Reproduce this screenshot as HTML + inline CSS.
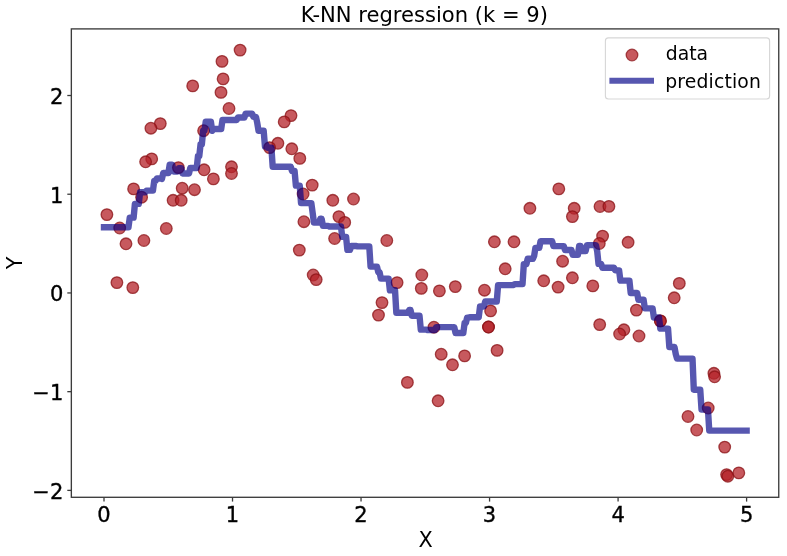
<!DOCTYPE html>
<html><head><meta charset="utf-8"><style>
html,body{margin:0;padding:0;background:#fff;}
svg{display:block;}
text{font-family:"DejaVu Sans","Liberation Sans",sans-serif;fill:#000;}
</style></head><body>
<svg width="787" height="556" viewBox="0 0 787 556">
<rect width="787" height="556" fill="#fff"/>
<g fill="#b42228" fill-opacity="0.75" stroke="#8a1014" stroke-opacity="0.75" stroke-width="1.3">
<circle cx="222.0" cy="61.4" r="5.8"/>
<circle cx="223.1" cy="78.9" r="5.8"/>
<circle cx="192.7" cy="85.9" r="5.8"/>
<circle cx="221.0" cy="92.4" r="5.8"/>
<circle cx="229.0" cy="108.5" r="5.8"/>
<circle cx="160.3" cy="123.6" r="5.8"/>
<circle cx="150.9" cy="128.2" r="5.8"/>
<circle cx="203.6" cy="130.7" r="5.8"/>
<circle cx="151.7" cy="158.9" r="5.8"/>
<circle cx="145.6" cy="161.8" r="5.8"/>
<circle cx="178.4" cy="167.6" r="5.8"/>
<circle cx="204.1" cy="169.8" r="5.8"/>
<circle cx="213.4" cy="178.9" r="5.8"/>
<circle cx="231.5" cy="166.8" r="5.8"/>
<circle cx="231.5" cy="173.5" r="5.8"/>
<circle cx="133.6" cy="188.9" r="5.8"/>
<circle cx="141.6" cy="197.2" r="5.8"/>
<circle cx="182.2" cy="188.2" r="5.8"/>
<circle cx="194.5" cy="189.7" r="5.8"/>
<circle cx="173.1" cy="200.3" r="5.8"/>
<circle cx="181.2" cy="200.3" r="5.8"/>
<circle cx="106.9" cy="214.6" r="5.8"/>
<circle cx="119.7" cy="228.0" r="5.8"/>
<circle cx="166.3" cy="228.5" r="5.8"/>
<circle cx="126.0" cy="243.8" r="5.8"/>
<circle cx="143.9" cy="240.5" r="5.8"/>
<circle cx="116.9" cy="282.6" r="5.8"/>
<circle cx="132.8" cy="287.6" r="5.8"/>
<circle cx="240.1" cy="50.1" r="5.8"/>
<circle cx="291.0" cy="115.6" r="5.8"/>
<circle cx="284.2" cy="121.9" r="5.8"/>
<circle cx="277.9" cy="143.3" r="5.8"/>
<circle cx="269.6" cy="147.6" r="5.8"/>
<circle cx="291.8" cy="148.8" r="5.8"/>
<circle cx="299.8" cy="158.4" r="5.8"/>
<circle cx="312.2" cy="185.1" r="5.8"/>
<circle cx="303.1" cy="194.0" r="5.8"/>
<circle cx="332.8" cy="200.3" r="5.8"/>
<circle cx="353.5" cy="199.0" r="5.8"/>
<circle cx="338.9" cy="216.6" r="5.8"/>
<circle cx="344.7" cy="222.4" r="5.8"/>
<circle cx="303.9" cy="221.7" r="5.8"/>
<circle cx="334.6" cy="238.5" r="5.8"/>
<circle cx="299.3" cy="250.1" r="5.8"/>
<circle cx="313.2" cy="275.0" r="5.8"/>
<circle cx="316.2" cy="279.6" r="5.8"/>
<circle cx="386.8" cy="240.5" r="5.8"/>
<circle cx="421.8" cy="275.0" r="5.8"/>
<circle cx="397.1" cy="282.6" r="5.8"/>
<circle cx="421.3" cy="288.4" r="5.8"/>
<circle cx="439.4" cy="290.9" r="5.8"/>
<circle cx="455.3" cy="286.6" r="5.8"/>
<circle cx="484.5" cy="290.2" r="5.8"/>
<circle cx="382.0" cy="302.6" r="5.8"/>
<circle cx="378.5" cy="315.1" r="5.8"/>
<circle cx="433.9" cy="327.2" r="5.8"/>
<circle cx="441.2" cy="354.2" r="5.8"/>
<circle cx="464.6" cy="355.9" r="5.8"/>
<circle cx="452.5" cy="364.8" r="5.8"/>
<circle cx="407.4" cy="382.4" r="5.8"/>
<circle cx="438.1" cy="400.8" r="5.8"/>
<circle cx="488.5" cy="327.0" r="5.8"/>
<circle cx="488.5" cy="327.0" r="5.8"/>
<circle cx="490.6" cy="310.9" r="5.8"/>
<circle cx="497.1" cy="350.4" r="5.8"/>
<circle cx="558.8" cy="188.9" r="5.8"/>
<circle cx="529.9" cy="208.3" r="5.8"/>
<circle cx="574.2" cy="208.3" r="5.8"/>
<circle cx="572.4" cy="216.6" r="5.8"/>
<circle cx="600.0" cy="206.5" r="5.8"/>
<circle cx="608.9" cy="206.4" r="5.8"/>
<circle cx="494.4" cy="241.8" r="5.8"/>
<circle cx="514.0" cy="241.8" r="5.8"/>
<circle cx="602.6" cy="236.1" r="5.8"/>
<circle cx="599.3" cy="243.5" r="5.8"/>
<circle cx="562.6" cy="261.2" r="5.8"/>
<circle cx="505.2" cy="268.8" r="5.8"/>
<circle cx="543.7" cy="280.8" r="5.8"/>
<circle cx="572.4" cy="277.8" r="5.8"/>
<circle cx="558.1" cy="287.1" r="5.8"/>
<circle cx="592.8" cy="285.9" r="5.8"/>
<circle cx="628.1" cy="242.3" r="5.8"/>
<circle cx="679.3" cy="283.4" r="5.8"/>
<circle cx="674.2" cy="297.8" r="5.8"/>
<circle cx="636.4" cy="310.1" r="5.8"/>
<circle cx="660.4" cy="320.9" r="5.8"/>
<circle cx="660.4" cy="320.9" r="5.8"/>
<circle cx="623.9" cy="329.8" r="5.8"/>
<circle cx="619.6" cy="334.0" r="5.8"/>
<circle cx="639.0" cy="336.0" r="5.8"/>
<circle cx="599.7" cy="324.6" r="5.8"/>
<circle cx="713.9" cy="373.3" r="5.8"/>
<circle cx="714.6" cy="376.8" r="5.8"/>
<circle cx="708.2" cy="408.0" r="5.8"/>
<circle cx="688.0" cy="416.5" r="5.8"/>
<circle cx="696.7" cy="430.0" r="5.8"/>
<circle cx="724.7" cy="447.1" r="5.8"/>
<circle cx="726.6" cy="474.6" r="5.8"/>
<circle cx="727.8" cy="476.2" r="5.8"/>
<circle cx="738.8" cy="472.9" r="5.8"/>
</g>
<polyline points="104.00,227.22 105.29,227.22 106.58,227.22 107.86,227.22 109.15,227.22 110.44,227.22 111.73,227.22 113.01,227.22 114.30,227.22 115.59,227.22 116.88,227.22 118.17,227.22 119.45,227.22 120.74,227.22 122.03,227.22 123.32,227.22 124.60,227.22 125.89,227.22 127.18,227.22 128.47,227.22 129.76,217.62 131.04,217.62 132.33,217.62 133.62,217.62 134.91,203.88 136.19,203.88 137.48,203.88 138.77,203.88 140.06,192.28 141.35,192.28 142.63,192.28 143.92,192.28 145.21,192.28 146.50,190.58 147.78,190.58 149.07,190.58 150.36,190.58 151.65,190.58 152.94,190.58 154.22,180.88 155.51,180.88 156.80,178.51 158.09,178.51 159.37,178.51 160.66,178.51 161.95,178.86 163.24,173.04 164.53,173.04 165.81,173.04 167.10,173.04 168.39,173.04 169.68,164.61 170.96,164.61 172.25,164.61 173.54,171.44 174.83,171.44 176.12,171.44 177.40,171.44 178.69,168.31 179.98,168.31 181.27,168.31 182.55,173.44 183.84,173.44 185.13,173.44 186.42,173.44 187.71,173.44 188.99,173.44 190.28,167.93 191.57,167.93 192.86,167.93 194.14,167.93 195.43,167.93 196.72,167.93 198.01,155.94 199.30,155.94 200.58,144.14 201.87,144.14 203.16,130.66 204.45,130.66 205.73,121.80 207.02,121.80 208.31,121.80 209.60,121.80 210.89,121.80 212.17,130.79 213.46,128.99 214.75,128.99 216.04,128.99 217.32,128.99 218.61,128.99 219.90,128.99 221.19,128.99 222.48,120.03 223.76,120.03 225.05,120.03 226.34,120.03 227.63,120.03 228.91,120.03 230.20,120.03 231.49,120.03 232.78,120.03 234.07,120.03 235.35,120.03 236.64,120.03 237.93,117.57 239.22,117.57 240.50,117.57 241.79,117.57 243.08,117.57 244.37,117.57 245.66,113.61 246.94,113.61 248.23,113.61 249.52,113.61 250.81,113.61 252.09,113.61 253.38,116.89 254.67,116.89 255.96,116.89 257.25,122.91 258.53,130.68 259.82,130.68 261.11,130.68 262.40,130.68 263.68,130.68 264.97,146.41 266.26,144.73 267.55,147.76 268.84,147.76 270.12,147.76 271.41,147.76 272.70,166.82 273.99,166.82 275.27,166.82 276.56,166.82 277.85,166.82 279.14,166.82 280.43,166.82 281.71,166.82 283.00,166.82 284.29,166.82 285.58,166.82 286.86,166.82 288.15,166.82 289.44,166.82 290.73,166.82 292.02,170.99 293.30,170.99 294.59,170.99 295.88,185.62 297.17,185.62 298.45,185.62 299.74,185.62 301.03,203.14 302.32,203.14 303.61,203.14 304.89,203.14 306.18,203.14 307.47,203.14 308.76,203.14 310.04,203.14 311.33,203.14 312.62,212.56 313.91,222.52 315.20,222.52 316.48,222.52 317.77,222.52 319.06,222.52 320.35,218.80 321.63,218.80 322.92,225.91 324.21,225.91 325.50,225.91 326.79,225.91 328.07,225.91 329.36,226.47 330.65,226.47 331.94,226.47 333.22,226.47 334.51,226.47 335.80,226.47 337.09,226.47 338.38,226.47 339.66,226.47 340.95,226.47 342.24,236.84 343.53,236.84 344.81,236.84 346.10,236.84 347.39,249.90 348.68,249.90 349.97,249.90 351.25,246.07 352.54,246.07 353.83,246.07 355.12,246.07 356.40,246.07 357.69,246.40 358.98,246.40 360.27,246.40 361.56,246.40 362.84,246.40 364.13,246.40 365.42,246.40 366.71,246.40 367.99,246.40 369.28,246.40 370.57,266.63 371.86,266.63 373.15,266.63 374.43,266.63 375.72,266.63 377.01,266.63 378.30,272.18 379.58,272.18 380.87,278.67 382.16,278.67 383.45,278.67 384.74,278.67 386.02,278.67 387.31,278.67 388.60,278.67 389.89,290.31 391.17,290.31 392.46,290.31 393.75,290.31 395.04,290.31 396.33,312.73 397.61,312.73 398.90,312.73 400.19,312.73 401.48,312.73 402.76,312.73 404.05,312.73 405.34,312.73 406.63,312.73 407.92,312.73 409.20,310.04 410.49,310.04 411.78,315.78 413.07,315.78 414.35,315.78 415.64,315.78 416.93,315.78 418.22,315.78 419.51,315.78 420.79,329.59 422.08,329.59 423.37,329.59 424.66,329.59 425.94,329.59 427.23,330.03 428.52,330.03 429.81,330.03 431.09,330.03 432.38,330.03 433.67,330.03 434.96,330.03 436.25,327.09 437.53,327.09 438.82,327.09 440.11,327.09 441.40,327.09 442.68,327.09 443.97,327.09 445.26,327.09 446.55,327.09 447.84,327.09 449.12,327.09 450.41,327.09 451.70,327.09 452.99,327.29 454.27,327.29 455.56,333.07 456.85,333.07 458.14,333.07 459.43,333.07 460.71,333.07 462.00,333.04 463.29,333.04 464.58,323.06 465.86,323.06 467.15,317.60 468.44,317.60 469.73,317.18 471.02,317.18 472.30,317.18 473.59,317.18 474.88,317.18 476.17,317.18 477.45,317.18 478.74,317.18 480.03,306.51 481.32,306.51 482.61,306.51 483.89,306.51 485.18,301.53 486.47,301.53 487.76,301.53 489.04,301.53 490.33,301.53 491.62,301.53 492.91,301.53 494.20,301.53 495.48,301.53 496.77,301.53 498.06,285.13 499.35,285.13 500.63,285.13 501.92,285.13 503.21,285.13 504.50,285.13 505.79,285.13 507.07,285.13 508.36,285.13 509.65,285.13 510.94,285.13 512.22,285.13 513.51,285.13 514.80,284.09 516.09,284.09 517.38,284.09 518.66,284.09 519.95,284.09 521.24,284.09 522.53,284.09 523.81,264.31 525.10,264.31 526.39,264.31 527.68,258.79 528.97,258.79 530.25,258.79 531.54,258.79 532.83,258.79 534.12,255.99 535.40,247.92 536.69,247.92 537.98,247.92 539.27,247.92 540.56,241.20 541.84,241.20 543.13,241.20 544.42,241.20 545.71,241.20 546.99,241.20 548.28,241.20 549.57,241.20 550.86,241.20 552.15,241.20 553.43,246.10 554.72,246.10 556.01,246.10 557.30,246.10 558.58,246.10 559.87,246.10 561.16,246.10 562.45,246.10 563.74,246.10 565.02,250.01 566.31,250.01 567.60,250.01 568.89,250.01 570.17,250.01 571.46,250.01 572.75,254.88 574.04,254.88 575.33,254.88 576.61,254.88 577.90,254.88 579.19,245.92 580.48,245.92 581.76,251.17 583.05,251.17 584.34,251.17 585.63,251.17 586.92,245.08 588.20,245.08 589.49,245.08 590.78,245.08 592.07,245.08 593.35,245.08 594.64,245.08 595.93,245.08 597.22,251.32 598.51,263.90 599.79,263.90 601.08,263.90 602.37,267.68 603.66,267.68 604.94,267.68 606.23,267.68 607.52,267.68 608.81,267.68 610.10,267.68 611.38,267.68 612.67,267.68 613.96,267.68 615.25,270.37 616.53,270.37 617.82,270.37 619.11,270.37 620.40,280.64 621.69,280.64 622.97,280.64 624.26,280.64 625.55,280.64 626.84,280.64 628.12,280.64 629.41,280.64 630.70,292.94 631.99,292.94 633.28,292.94 634.56,292.94 635.85,292.94 637.14,292.94 638.43,299.80 639.71,299.80 641.00,299.80 642.29,299.80 643.58,299.80 644.87,308.36 646.15,308.36 647.44,308.36 648.73,308.36 650.02,308.36 651.30,308.36 652.59,308.36 653.88,317.52 655.17,317.52 656.46,317.52 657.74,317.52 659.03,317.52 660.32,328.66 661.61,328.66 662.89,328.66 664.18,328.66 665.47,328.66 666.76,328.66 668.05,328.66 669.33,347.07 670.62,347.07 671.91,347.07 673.20,347.07 674.48,347.07 675.77,354.09 677.06,358.62 678.35,358.62 679.64,358.62 680.92,358.62 682.21,358.62 683.50,358.62 684.79,358.62 686.07,358.62 687.36,358.62 688.65,358.62 689.94,358.62 691.23,358.62 692.51,358.62 693.80,389.72 695.09,389.72 696.38,389.72 697.66,389.72 698.95,389.72 700.24,389.72 701.53,409.54 702.82,409.54 704.10,409.54 705.39,409.54 706.68,409.54 707.97,409.54 709.25,430.60 710.54,430.60 711.83,430.60 713.12,430.60 714.41,430.60 715.69,430.60 716.98,430.60 718.27,430.60 719.56,430.60 720.84,430.60 722.13,430.60 723.42,430.60 724.71,430.60 726.00,430.60 727.28,430.60 728.57,430.60 729.86,430.60 731.15,430.60 732.43,430.60 733.72,430.60 735.01,430.60 736.30,430.60 737.59,430.60 738.87,430.60 740.16,430.60 741.45,430.60 742.74,430.60 744.02,430.60 745.31,430.60 746.60,430.60" fill="none" stroke="#000087" stroke-opacity="0.66" stroke-width="6.4" stroke-linejoin="round" stroke-linecap="square"/>
<rect x="71.35" y="28.9" width="707.4" height="468.4" fill="none" stroke="#3c3c3c" stroke-width="1.35"/>
<g stroke="#3c3c3c" stroke-width="1.3"><line x1="104.00" y1="497.3" x2="104.00" y2="501.6"/><line x1="232.52" y1="497.3" x2="232.52" y2="501.6"/><line x1="361.04" y1="497.3" x2="361.04" y2="501.6"/><line x1="489.56" y1="497.3" x2="489.56" y2="501.6"/><line x1="618.08" y1="497.3" x2="618.08" y2="501.6"/><line x1="746.60" y1="497.3" x2="746.60" y2="501.6"/><line x1="67.3" y1="490.39" x2="71.4" y2="490.39"/><line x1="67.3" y1="391.67" x2="71.4" y2="391.67"/><line x1="67.3" y1="292.95" x2="71.4" y2="292.95"/><line x1="67.3" y1="194.23" x2="71.4" y2="194.23"/><line x1="67.3" y1="95.51" x2="71.4" y2="95.51"/></g>
<g font-size="21px" stroke="#000" stroke-width="0.35"><text x="104.00" y="521.5" text-anchor="middle">0</text><text x="232.52" y="521.5" text-anchor="middle">1</text><text x="361.04" y="521.5" text-anchor="middle">2</text><text x="489.56" y="521.5" text-anchor="middle">3</text><text x="618.08" y="521.5" text-anchor="middle">4</text><text x="746.60" y="521.5" text-anchor="middle">5</text><text x="63.3" y="498.69" text-anchor="end">&#8722;2</text><text x="63.3" y="399.97" text-anchor="end">&#8722;1</text><text x="63.3" y="301.25" text-anchor="end">0</text><text x="63.3" y="202.53" text-anchor="end">1</text><text x="63.3" y="103.81" text-anchor="end">2</text></g>
<text x="424.4" y="21.8" text-anchor="middle" font-size="21.1px">K-NN regression (k = 9)</text>
<text x="425.6" y="547.2" text-anchor="middle" font-size="20.8px">X</text>
<text transform="translate(21.9,262.8) rotate(-90)" text-anchor="middle" font-size="20.8px">Y</text>
<g>
<rect x="605.4" y="37.9" width="164.2" height="61.1" rx="3" ry="3" fill="#fff" fill-opacity="0.8" stroke="#cccccc" stroke-opacity="0.8" stroke-width="1.1"/>
<circle cx="632.0" cy="55.0" r="5.8" fill="#b42228" fill-opacity="0.75" stroke="#8a1014" stroke-opacity="0.75" stroke-width="1.3"/>
<line x1="609.4" y1="80.7" x2="654.0" y2="80.7" stroke="#000087" stroke-opacity="0.66" stroke-width="5.9"/>
<text x="665.8" y="59.9" font-size="18.8px">data</text>
<text x="665.3" y="87.6" font-size="18.8px" textLength="95.6" lengthAdjust="spacing">prediction</text>
</g>
</svg>
</body></html>
